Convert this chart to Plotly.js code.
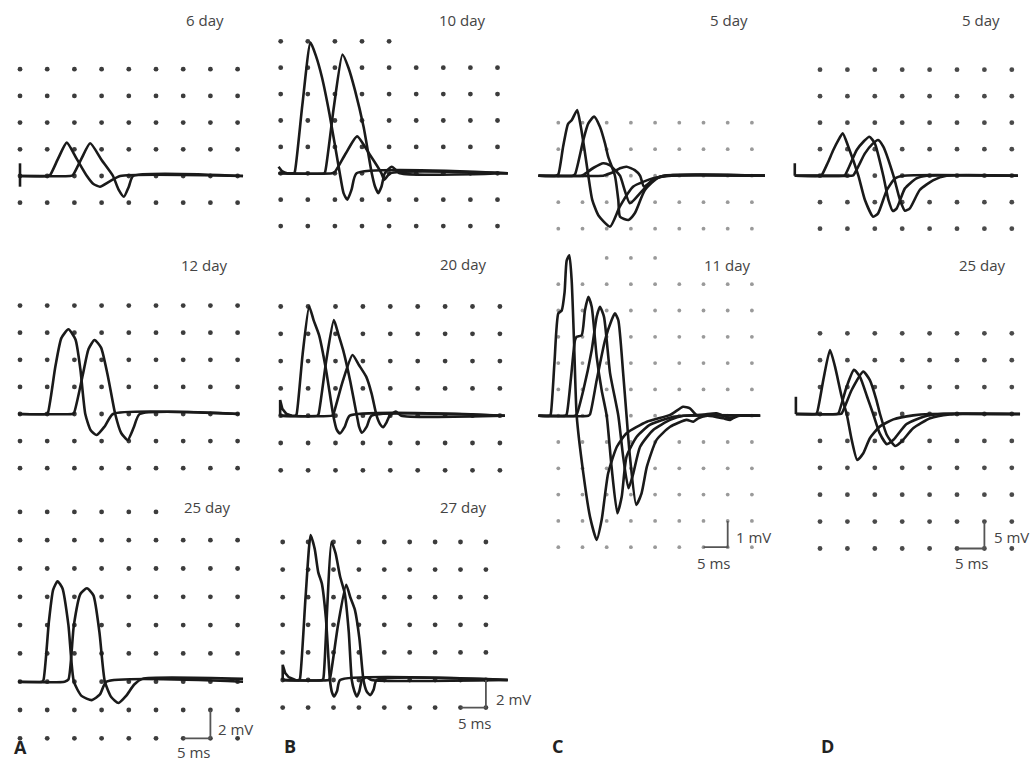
<!DOCTYPE html>
<html><head><meta charset="utf-8">
<script src="https://cdn.plot.ly/plotly-3.0.1.min.js"></script>
<style>html,body{margin:0;padding:0;background:#fff;}</style>
</head><body>
<div id="chart" style="width:1036px;height:763px;"></div>
<script>
// ---------- DATA (time in ms, amplitude in mV) ----------
const dayLabels = ["6 day","12 day","25 day","10 day","20 day","27 day","5 day","11 day","5 day","25 day"];
const groupLetters = ["A","B","C","D"];
const scaleMV = ["2 mV","2 mV","1 mV","5 mV"];
const scaleMs = "5 ms";

// A - 6 day
const a6_art_t = [0, 0];
const a6_art_v = [0.95, -0.8];
const a6_t1 = [0, 5.0, 5.5, 7.0, 8.6, 10.4, 12.3, 13.5, 14.7, 16.5, 18.4, 41];
const a6_v1 = [0, 0, 0.05, 1.3, 2.5, 1.3, 0, -0.6, -0.8, -0.4, 0, 0];
const a6_t2 = [0, 9.2, 9.7, 11.3, 12.9, 15.0, 17.1, 18.1, 19.1, 20.0, 20.8, 41];
const a6_v2 = [0, 0, 0.05, 1.3, 2.45, 1.2, 0, -1.0, -1.55, -0.8, 0, 0];
// A - 12 day
const a12_t1 = [-0.3, 4.8, 5.1, 6.5, 7.6, 8.9, 10.2, 11.1, 12.0, 13.0, 14.1, 15.6, 17.1, 40.3];
const a12_v1 = [0, 0, 0.05, 3.5, 5.6, 6.25, 5.5, 3.3, 0, -1.2, -1.55, -0.9, 0, 0];
const a12_t2 = [-0.3, 9.6, 9.9, 11.6, 12.6, 13.7, 14.9, 16.2, 17.5, 18.6, 19.8, 20.9, 22.0, 40.3];
const a12_v2 = [0, 0, 0.05, 3.0, 4.8, 5.46, 4.9, 2.7, 0, -1.4, -1.92, -1.0, 0, 0];
// A - 25 day
const a25_t1 = [-0.3, 4.0, 4.3, 5.3, 6.1, 6.9, 7.8, 8.9, 9.9, 11.3, 13.2, 14.7, 15.9, 41];
const a25_v1 = [0, 0, 0.1, 4.2, 6.5, 7.1, 6.6, 4.0, 0, -1.0, -1.3, -0.9, 0, 0];
const a25_t2 = [-0.3, 8.2, 8.9, 9.9, 11.1, 12.3, 13.5, 14.6, 15.6, 16.8, 18.1, 19.5, 21.0, 22.5, 41];
const a25_v2 = [0, 0, 0.15, 4.0, 6.2, 6.6, 6.1, 3.5, 0, -1.1, -1.5, -1.0, -0.2, 0.2, 0.2];

// B - 10 day
const b10_t1 = [-0.4, 0.3, 1.2, 2.4, 2.6, 4.0, 5.5, 6.5, 7.6, 9.0, 10.9, 11.6, 12.3, 13.1, 14.0, 41.9];
const b10_v1 = [0.5, 0.15, 0, 0, 0.1, 5.2, 9.9, 8.9, 7.3, 4.5, 0, -1.5, -2.0, -1.2, 0, 0];
const b10_t2 = [-0.4, 8.0, 8.2, 9.8, 11.4, 12.5, 13.7, 15.3, 16.8, 17.4, 18.0, 18.6, 19.2, 20.5, 22.0, 41.9];
const b10_v2 = [0, 0, 0.1, 5.0, 9.0, 8.0, 6.3, 3.5, 0, -1.0, -1.5, -1.0, 0, 0.5, 0, 0];
const b10_t3 = [-0.4, 9.5, 10.0, 12.0, 14.1, 16.3, 18.6, 19.1, 20.2, 41.9];
const b10_v3 = [0, 0, 0.1, 1.5, 2.8, 1.5, 0, -0.5, 0, 0];
// B - 20 day
const b20_art_t = [-0.1, -0.1, 0.3, 1.0, 2.0];
const b20_art_v = [0, 1.15, 0.5, 0.15, 0];
const b20_t1 = [-0.1, 2.7, 2.9, 4.0, 5.2, 6.0, 7.0, 8.3, 9.6, 10.2, 10.8, 11.7, 12.6, 40.9];
const b20_v1 = [0, 0, 0.1, 4.5, 8.0, 7.0, 5.9, 3.3, 0, -1.0, -1.3, -0.8, 0, 0];
const b20_t2 = [-0.1, 6.7, 6.9, 8.3, 9.7, 10.5, 11.4, 12.7, 13.9, 14.3, 14.8, 15.7, 16.6, 40.9];
const b20_v2 = [0, 0, 0.1, 4.0, 7.0, 6.0, 4.8, 2.5, 0, -0.8, -1.25, -0.8, 0, 0];
const b20_t3 = [-0.1, 9.4, 9.6, 11.3, 13.1, 14.3, 15.6, 16.6, 17.5, 18.1, 18.7, 19.3, 19.9, 21.0, 22.0, 40.9];
const b20_v3 = [0, 0, 0.1, 2.5, 4.45, 3.7, 2.86, 1.6, 0, -0.6, -0.85, -0.5, 0, 0.3, 0, 0];
// B - 27 day
const b27_art_t = [0, 0, 0.5, 1.2, 2.5];
const b27_art_v = [0, 1.1, 0.5, 0.2, 0];
const b27_t1 = [0, 3.2, 3.4, 4.5, 5.5, 6.3, 7.0, 7.7, 8.5, 9.3, 9.7, 10.1, 10.7, 11.3, 44.3];
const b27_v1 = [0, 0, 0.1, 6.0, 10.5, 9.5, 7.8, 7.0, 4.5, 0, -0.9, -1.2, -0.8, 0, 0];
const b27_t2 = [0, 7.8, 8.0, 8.8, 9.6, 10.4, 11.3, 12.2, 13.0, 13.6, 14.1, 14.6, 15.1, 15.6, 16.5, 17.5, 44.3];
const b27_v2 = [0, 0, 0.1, 5.5, 10.0, 9.2, 7.5, 6.3, 3.5, 0, -0.8, -1.2, -0.8, 0, 0.2, 0, 0];
const b27_t3 = [0, 9.1, 9.3, 10.9, 12.5, 13.3, 14.2, 15.1, 15.9, 16.5, 17.2, 17.9, 18.5, 44.3];
const b27_v3 = [0, 0, 0.1, 4.0, 6.9, 6.0, 5.1, 3.0, 0, -0.8, -1.1, -0.7, 0, 0];

// C - 5 day
const c5_t1 = [-4.1, -0.5, 0, 1.0, 2.0, 2.8, 3.9, 4.6, 5.4, 6.2, 7.0, 8.3, 10.7, 12.7, 15.5, 19.6, 23.4, 42.7];
const c5_v1 = [0, 0, 0.05, 1.1, 1.95, 2.1, 2.48, 1.9, 1.0, 0, -0.9, -1.5, -1.92, -1.17, -0.41, -0.1, 0, 0];
const c5_t2 = [-4.1, 3.0, 3.45, 5.17, 6.2, 7.4, 8.6, 9.65, 10.3, 11.7, 12.4, 12.75, 14.5, 15.8, 17.9, 21.0, 42.7];
const c5_v2 = [0, 0, 0.05, 1.35, 1.97, 2.23, 1.85, 1.22, 0.72, 0, -0.92, -1.55, -1.67, -1.42, -0.54, -0.04, 0];
const c5_t3 = [-4.1, 4.8, 5.2, 7.3, 9.3, 10.6, 11.8, 12.75, 14.8, 16.9, 19.6, 22.4, 42.7];
const c5_v3 = [0, 0, 0.03, 0.3, 0.47, 0.4, 0.2, 0, -1.04, -0.66, -0.16, 0, 0];
const c5_t4 = [-4.1, 9.3, 9.65, 11.5, 12.75, 14.1, 15.8, 16.9, 17.7, 19.6, 21.7, 42.7];
const c5_v4 = [0, 0, 0.02, 0.15, 0.28, 0.34, 0.21, 0, -0.41, -0.15, 0, 0];
// C - 11 day
const c11_t1 = [-4.1, -1.8, -1.57, -0.8, 0.0, 0.7, 1.3, 1.73, 2.28, 2.76, 3.24, 3.8, 5.17, 6.55, 7.93, 8.96, 10.3, 12.1, 14.1, 18.3, 23.1, 25.8, 27.2, 28.6, 32.7, 35.5, 37.5, 41.7];
const c11_v1 = [0, 0, 0.05, 2.0, 3.89, 4.0, 4.7, 5.9, 6.1, 5.15, 2.87, 0, -2.19, -3.84, -4.72, -3.96, -2.19, -1.18, -0.67, -0.23, 0.03, 0.34, 0.28, 0.03, 0.09, -0.1, 0, 0];
const c11_t2 = [-4.1, 1.4, 1.73, 2.6, 3.45, 3.8, 4.83, 5.5, 6.2, 6.9, 7.93, 8.96, 10.0, 11.0, 12.2, 13.1, 14.1, 16.2, 18.9, 23.8, 26.0, 41.7];
const c11_v2 = [0, 0, 0.05, 1.4, 2.87, 3.0, 3.06, 4.0, 4.52, 4.14, 2.24, 0.97, 0, -1.94, -3.71, -3.08, -1.56, -0.8, -0.35, -0.04, 0, 0];
const c11_t3 = [-4.1, 3.4, 3.8, 5.17, 6.9, 7.93, 8.6, 9.44, 10.7, 12.4, 13.4, 14.5, 15.5, 16.9, 19.6, 23.1, 25.8, 41.7];
const c11_v3 = [0, 0, 0.05, 0.97, 2.49, 3.76, 4.14, 3.76, 1.61, 0, -1.56, -2.76, -2.19, -1.18, -0.54, -0.16, 0, 0];
const c11_t4 = [-4.1, 6.2, 6.55, 7.93, 9.65, 11.0, 11.7, 12.4, 13.4, 14.1, 14.8, 16.1, 17.2, 18.3, 20.3, 23.1, 26.5, 27.9, 28.9, 30.8, 34.1, 35.5, 36.9, 41.7];
const c11_v4 = [0, 0, 0.05, 1.35, 2.87, 3.63, 3.89, 3.63, 1.61, 0, -1.56, -3.39, -2.95, -1.94, -0.92, -0.42, -0.16, -0.23, -0.1, 0, -0.1, -0.16, 0, 0];

// D - 5 day
const d5_art_t = [-4.6, -4.6];
const d5_art_v = [2.35, 0];
const d5_t1 = [-4.6, 0, 0.31, 1.4, 2.43, 3.3, 4.14, 5.17, 7.0, 8.2, 9.7, 10.6, 12.2, 13.7, 15.2, 36.1];
const d5_v1 = [0, 0, 0.1, 2.4, 4.84, 6.6, 7.99, 5.47, 0, -4.59, -7.74, -7.1, -2.7, -0.5, 0, 0];
const d5_t2 = [-4.6, 4.2, 4.56, 6.7, 8.0, 9.0, 10.0, 11.55, 12.5, 13.3, 14.0, 15.5, 17.6, 19.5, 36.1];
const d5_v2 = [0, 0, 0.1, 4.84, 6.5, 7.36, 6.1, 0, -4.59, -6.67, -6.16, -2.39, -0.5, 0, 0];
const d5_t3 = [-4.6, 5.7, 6.1, 8.2, 9.5, 10.6, 11.55, 13.4, 14.6, 15.5, 16.4, 18.2, 20.7, 23.1, 36.1];
const d5_v3 = [0, 0, 0.1, 4.21, 5.9, 6.73, 5.47, 0, -4.59, -6.6, -6.16, -2.7, -0.82, 0, 0];
// D - 25 day
const d25_art_t = [-4.4, -4.4];
const d25_art_v = [3.2, 0];
const d25_t1 = [-4.4, -0.9, -0.6, 0.6, 1.82, 2.74, 3.96, 4.87, 5.78, 6.8, 7.9, 9.1, 10.9, 13.4, 17.0, 20.0, 36.5];
const d25_v1 = [0, 0, 0.1, 6.3, 11.9, 8.8, 3.2, 0, -4.8, -8.55, -7.3, -4.5, -2.35, -1.0, -0.25, 0, 0];
const d25_t2 = [-4.4, 3.0, 3.34, 4.87, 6.2, 7.3, 8.6, 9.7, 10.9, 12.2, 13.4, 15.8, 18.9, 22.0, 36.5];
const d25_v2 = [0, 0, 0.1, 5.1, 8.2, 6.9, 3.2, 0, -3.6, -5.6, -4.8, -1.86, -0.5, 0, 0];
const d25_t3 = [-4.4, 3.6, 3.96, 5.78, 7.9, 9.1, 10.3, 10.95, 12.2, 13.7, 14.9, 17.0, 20.1, 23.7, 26.0, 36.5];
const d25_v3 = [0, 0, 0.1, 4.46, 7.87, 6.3, 2.6, 0, -3.9, -5.95, -5.1, -2.66, -0.8, -0.1, 0, 0];

// scale bars: 5 ms horizontally, one grid division vertically
const scaleBarMs = [5, 5, 5, 5];

// ---------- LAYOUT / GEOMETRY ----------
const W = 1036, H = 763;
const panels = [
  {t0:20, pxMs:5.44, base:176, pxDiv:26.7, mV:2, cols:9, rMin:-1, rMax:4, box:[5,255,30,240], lab:[226,20],
   waves:[[a6_t1,a6_v1],[a6_t2,a6_v2]], art:[a6_art_t,a6_art_v], dot:'#3c3c3c'},
  {t0:20, pxMs:5.44, base:414, pxDiv:27.1, mV:2, cols:9, rMin:-2, rMax:4, box:[5,255,285,480], lab:[230,265],
   waves:[[a12_t1,a12_v1],[a12_t2,a12_v2]], dot:'#3c3c3c'},
  {t0:20, pxMs:5.44, base:681.7, pxDiv:28.3, mV:2, cols:9, rMin:-2, rMax:6, top:[0,6], box:[5,255,500,745], lab:[233,507],
   waves:[[a25_t1,a25_v1],[a25_t2,a25_v2]], dot:'#3c3c3c', bar:{t:35, div:-1, ms:0}},
  {t0:280.7, pxMs:5.42, base:173.3, pxDiv:26.4, mV:2, cols:9, rMin:-2, rMax:5, top:[0,5], box:[265,520,30,240], lab:[488,20],
   waves:[[b10_t1,b10_v1],[b10_t2,b10_v2],[b10_t3,b10_v3]], dot:'#3c3c3c'},
  {t0:280.7, pxMs:5.48, base:415.7, pxDiv:27.3, mV:2, cols:9, rMin:-2, rMax:4, box:[265,520,285,480], lab:[489,264],
   waves:[[b20_t1,b20_v1],[b20_t2,b20_v2],[b20_t3,b20_v3]], art:[b20_art_t,b20_art_v], dot:'#3c3c3c'},
  {t0:282.7, pxMs:5.08, base:680, pxDiv:27.6, mV:2, cols:9, rMin:-1, rMax:5, box:[265,520,520,745], lab:[489,507],
   waves:[[b27_t1,b27_v1],[b27_t2,b27_v2],[b27_t3,b27_v3]], art:[b27_art_t,b27_art_v], dot:'#3c3c3c', bar:{t:40, div:0, ms:1}},
  {t0:558.3, pxMs:4.84, base:175.7, pxDiv:26.5, mV:1, cols:9, rMin:-2, rMax:2, box:[525,780,90,245], lab:[750,20],
   waves:[[c5_t1,c5_v1],[c5_t2,c5_v2],[c5_t3,c5_v3],[c5_t4,c5_v4]], dot:'#9a9a9a', dsz:3.8},
  {t0:558.3, pxMs:4.84, base:415.7, pxDiv:26.3, mV:1, cols:9, rMin:-5, rMax:6, top:[2,5], box:[525,780,245,560], lab:[753,265],
   waves:[[c11_t1,c11_v1],[c11_t2,c11_v2],[c11_t3,c11_v3],[c11_t4,c11_v4]], dot:'#9a9a9a', dsz:3.8, bar:{t:35, div:-4, ms:2}},
  {t0:820, pxMs:5.48, base:175.7, pxDiv:26.5, mV:5, cols:8, rMin:-2, rMax:4, box:[785,1030,50,245], lab:[1002,20],
   waves:[[d5_t1,d5_v1],[d5_t2,d5_v2],[d5_t3,d5_v3]], art:[d5_art_t,d5_art_v], dot:'#4a4a4a'},
  {t0:820, pxMs:5.48, base:414, pxDiv:26.9, mV:5, cols:8, rMin:-5, rMax:3, box:[785,1030,315,560], lab:[1008,265],
   waves:[[d25_t1,d25_v1],[d25_t2,d25_v2],[d25_t3,d25_v3]], art:[d25_art_t,d25_art_v], dot:'#4a4a4a', bar:{t:30, div:-4, ms:3}}
];

const traces = [];
const layout = {
  width: W, height: H, margin:{l:0,r:0,t:0,b:0},
  paper_bgcolor:'#fff', plot_bgcolor:'rgba(0,0,0,0)', showlegend:false,
  annotations: []
};
const font = {family:'Open Sans, Noto Sans, sans-serif', size:15, color:'#444'};

panels.forEach((P, i) => {
  const k = i + 1;
  const xa = k === 1 ? 'x' : 'x' + k;
  const ya = k === 1 ? 'y' : 'y' + k;
  const xName = k === 1 ? 'xaxis' : 'xaxis' + k;
  const yName = k === 1 ? 'yaxis' : 'yaxis' + k;
  const [L, R, T, B] = P.box;
  layout[xName] = {domain:[L / W, R / W], range:[(L - P.t0) / P.pxMs, (R - P.t0) / P.pxMs],
                   visible:false, fixedrange:true, anchor: ya};
  layout[yName] = {domain:[1 - B / H, 1 - T / H], range:[(P.base - B) / P.pxDiv * P.mV, (P.base - T) / P.pxDiv * P.mV],
                   visible:false, fixedrange:true, anchor: xa};
  // dot grid
  const gx = [], gy = [];
  for (let r = P.rMin; r <= P.rMax; r++) {
    for (let c = 0; c < P.cols; c++) {
      if (r === P.rMax && P.top && (c < P.top[0] || c >= P.top[1])) continue;
      gx.push(c * 5); gy.push(r * P.mV);
    }
  }
  traces.push({x:gx, y:gy, xaxis:xa, yaxis:ya, type:'scatter', mode:'markers', hoverinfo:'skip',
               marker:{size:P.dsz || 4.8, color:P.dot, line:{width:0}}});
  // stimulus artifact
  if (P.art) {
    traces.push({x:P.art[0], y:P.art[1], xaxis:xa, yaxis:ya, type:'scatter', mode:'lines', hoverinfo:'skip',
                 line:{color:'#1a1a1a', width:2.6}});
  }
  // waveforms
  P.waves.forEach(w => {
    traces.push({x:w[0], y:w[1], xaxis:xa, yaxis:ya, type:'scatter', mode:'lines', hoverinfo:'skip',
                 line:{color:'#1a1a1a', width:2.6, shape:'spline', smoothing:0.55}});
  });
  // scale bar
  if (P.bar) {
    const len = scaleBarMs[P.bar.ms];
    traces.push({x:[P.bar.t - len, P.bar.t, P.bar.t], y:[(P.bar.div - 1) * P.mV, (P.bar.div - 1) * P.mV, P.bar.div * P.mV],
                 xaxis:xa, yaxis:ya, type:'scatter', mode:'lines', hoverinfo:'skip',
                 line:{color:'#555', width:1.8}});
  }
  // day label
  layout.annotations.push({text:dayLabels[i], xref:'paper', yref:'paper', x:P.lab[0] / W, y:1 - P.lab[1] / H,
                           xanchor:'right', yanchor:'middle', showarrow:false, font:font});
});

// scale bar texts
const mvPos = [[216,729],[494,699],[734,537],[992,537]];
const msPos = [[194,752],[475,723],[714,563],[972,563]];
for (let g = 0; g < 4; g++) {
  layout.annotations.push({text:scaleMV[g], xref:'paper', yref:'paper', x:mvPos[g][0] / W, y:1 - mvPos[g][1] / H,
                           xanchor:'left', yanchor:'middle', showarrow:false, font:font});
  layout.annotations.push({text:scaleMs, xref:'paper', yref:'paper', x:msPos[g][0] / W, y:1 - msPos[g][1] / H,
                           xanchor:'center', yanchor:'middle', showarrow:false, font:font});
}
// group letters
const letPos = [[12,747],[282,746],[550,746],[819,746]];
for (let g = 0; g < 4; g++) {
  layout.annotations.push({text:'<b>' + groupLetters[g] + '</b>', xref:'paper', yref:'paper',
                           x:letPos[g][0] / W, y:1 - letPos[g][1] / H, xanchor:'left', yanchor:'middle',
                           showarrow:false, font:{family:'Open Sans, Noto Sans, sans-serif', size:18, color:'#222'}});
}

Plotly.newPlot('chart', traces, layout, {staticPlot:true, displayModeBar:false});
</script>
</body></html>
